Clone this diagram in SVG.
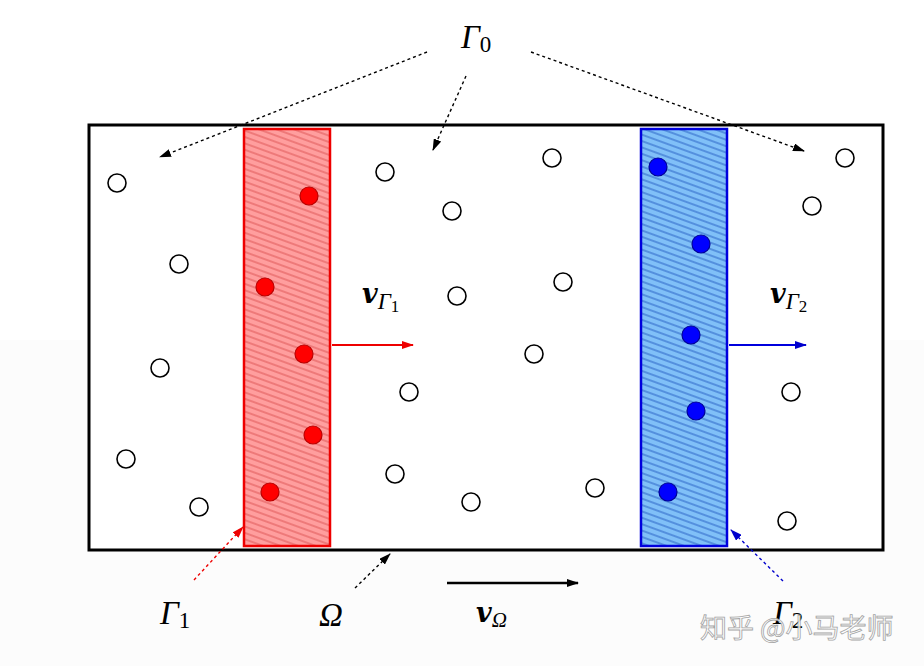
<svg xmlns="http://www.w3.org/2000/svg" width="924" height="666" viewBox="0 0 924 666">
<style>
.ring{fill:#fff;stroke:#000;stroke-width:1.6}
.rd{fill:#f00;stroke:#b00;stroke-width:1.2}
.bd{fill:#00f;stroke:#009;stroke-width:1.2}
.lab{font-family:"Liberation Serif","DejaVu Serif",serif;font-style:italic;fill:#000}
.sub{font-family:"Liberation Serif","DejaVu Serif",serif;font-style:normal;font-weight:normal;fill:#000}
.vb{font-family:"DejaVu Serif","Liberation Serif",serif;font-style:italic;font-weight:bold;fill:#000}
.dash{fill:none;stroke-width:1.4;stroke-dasharray:3 3}
</style>
<defs>
<pattern id="hr" width="6" height="6" patternUnits="userSpaceOnUse" patternTransform="rotate(20)">
<rect width="6" height="6" fill="#ff9e9e"/>
<line x1="0" y1="3" x2="6" y2="3" stroke="#dd5555" stroke-width="1"/>
</pattern>
<pattern id="hb" width="6" height="6" patternUnits="userSpaceOnUse" patternTransform="rotate(20)">
<rect width="6" height="6" fill="#80c0f8"/>
<line x1="0" y1="3" x2="6" y2="3" stroke="#2860c4" stroke-width="1"/>
</pattern>
<marker id="ak" markerWidth="12" markerHeight="8" refX="11" refY="4" orient="auto" markerUnits="userSpaceOnUse"><path d="M0,0 L12,4 L0,8 Z" fill="#000"/></marker>
<marker id="ar" markerWidth="12" markerHeight="8" refX="11" refY="4" orient="auto" markerUnits="userSpaceOnUse"><path d="M0,0 L12,4 L0,8 Z" fill="#e00"/></marker>
<marker id="ab" markerWidth="12" markerHeight="8" refX="11" refY="4" orient="auto" markerUnits="userSpaceOnUse"><path d="M0,0 L12,4 L0,8 Z" fill="#00c"/></marker>
</defs>
<rect width="924" height="666" fill="#fff"/>
<rect x="0" y="340" width="924" height="326" fill="#fcfcfc"/>

<g id="domain">
<rect x="89" y="125" width="794" height="425" fill="#fff" stroke="#000" stroke-width="3"/>
</g>
<g id="gamma1-band">
<rect x="244" y="129" width="86" height="417" fill="url(#hr)" stroke="#e00" stroke-width="2.5"/>
</g>
<g id="gamma2-band">
<rect x="641" y="129" width="86" height="417" fill="url(#hb)" stroke="#00d" stroke-width="2.5"/>
</g>

<g id="particles">
<circle class="ring" cx="117" cy="183" r="9"/>
<circle class="ring" cx="179" cy="264" r="9"/>
<circle class="ring" cx="160" cy="368" r="9"/>
<circle class="ring" cx="126" cy="459" r="9"/>
<circle class="ring" cx="199" cy="507" r="9"/>
<circle class="ring" cx="385" cy="172" r="9"/>
<circle class="ring" cx="452" cy="211" r="9"/>
<circle class="ring" cx="552" cy="158" r="9"/>
<circle class="ring" cx="457" cy="296" r="9"/>
<circle class="ring" cx="563" cy="282" r="9"/>
<circle class="ring" cx="534" cy="354" r="9"/>
<circle class="ring" cx="409" cy="392" r="9"/>
<circle class="ring" cx="395" cy="474" r="9"/>
<circle class="ring" cx="471" cy="502" r="9"/>
<circle class="ring" cx="595" cy="488" r="9"/>
<circle class="ring" cx="845" cy="158" r="9"/>
<circle class="ring" cx="812" cy="206" r="9"/>
<circle class="ring" cx="791" cy="392" r="9"/>
<circle class="ring" cx="787" cy="521" r="9"/>
<circle class="rd" cx="309" cy="196" r="9"/>
<circle class="rd" cx="265" cy="287" r="9"/>
<circle class="rd" cx="304" cy="354" r="9"/>
<circle class="rd" cx="313" cy="435" r="9"/>
<circle class="rd" cx="270" cy="492" r="9"/>
<circle class="bd" cx="658" cy="167" r="9"/>
<circle class="bd" cx="701" cy="244" r="9"/>
<circle class="bd" cx="691" cy="335" r="9"/>
<circle class="bd" cx="696" cy="411" r="9"/>
<circle class="bd" cx="668" cy="492" r="9"/>
</g>

<g id="connectors">
<line x1="332" y1="345" x2="413" y2="345" stroke="#e00" stroke-width="2.2" marker-end="url(#ar)"/>
<line x1="729" y1="345" x2="806" y2="345" stroke="#00d" stroke-width="2.2" marker-end="url(#ab)"/>
<line x1="447" y1="583" x2="578" y2="583" stroke="#000" stroke-width="2.5" marker-end="url(#ak)"/>
<line class="dash" x1="427" y1="52" x2="160" y2="157" stroke="#000" marker-end="url(#ak)"/>
<line class="dash" x1="466" y1="76" x2="433" y2="150" stroke="#000" marker-end="url(#ak)"/>
<line class="dash" x1="531" y1="52" x2="804" y2="151" stroke="#000" marker-end="url(#ak)"/>
<line class="dash" x1="194" y1="580" x2="243" y2="527" stroke="#e00" marker-end="url(#ar)"/>
<line class="dash" x1="355" y1="588" x2="390" y2="554" stroke="#000" marker-end="url(#ak)"/>
<line class="dash" x1="783" y1="581" x2="731" y2="530" stroke="#00c" marker-end="url(#ab)"/>
</g>

<g id="labels">
<text class="lab" x="461" y="48" font-size="33">Γ<tspan class="sub" font-size="23" dy="4">0</tspan></text>
<text class="lab" x="160" y="624" font-size="33">Γ<tspan class="sub" font-size="23" dy="4">1</tspan></text>
<text class="lab" x="319" y="626" font-size="33">Ω</text>
<text class="lab" x="773" y="624" font-size="33">Γ<tspan class="sub" font-size="23" dy="4">2</tspan></text>
<text class="vb" x="362" y="303" font-size="27">v<tspan class="lab" font-size="23" font-weight="normal" dy="6">Γ</tspan><tspan class="sub" font-size="17" dy="3">1</tspan></text>
<text class="vb" x="770" y="303" font-size="27">v<tspan class="lab" font-size="23" font-weight="normal" dy="6">Γ</tspan><tspan class="sub" font-size="17" dy="3">2</tspan></text>
<text class="vb" x="476" y="622" font-size="27">v<tspan class="lab" font-size="21" font-weight="normal" dy="5">Ω</tspan></text>
</g>

<g id="watermark">
<text x="700" y="638" font-family="'Noto Sans CJK SC','Noto Sans',sans-serif" font-size="27" fill="#ffffff" stroke="#9a9a9a" stroke-width="0.8" opacity="0.9">知乎 @小马老师</text>
</g>
</svg>
